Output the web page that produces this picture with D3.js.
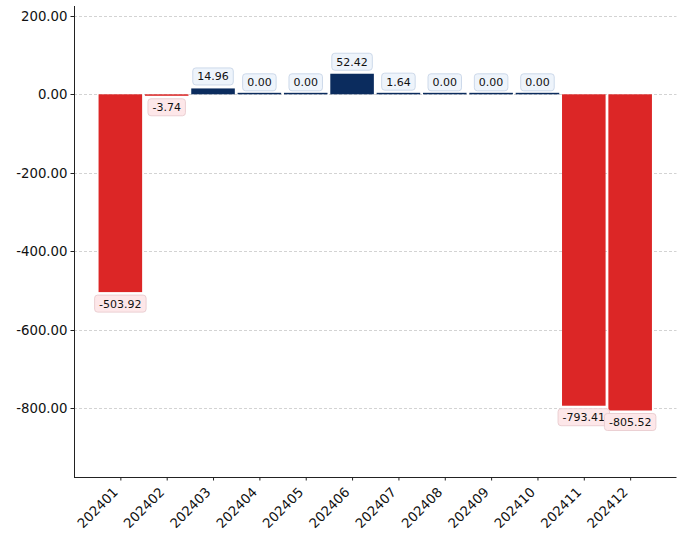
<!DOCTYPE html>
<html>
<head>
<meta charset="utf-8">
<script src="https://cdn.jsdelivr.net/npm/d3@7"></script>
<style>
  html, body { margin: 0; padding: 0; background: #fff; }
  svg { display: block; font-family: "DejaVu Sans", sans-serif; }
</style>
</head>
<body>
<svg id="chart" width="683" height="533"></svg>
<script>
// Monthly values
const months = ["202401","202402","202403","202404","202405","202406",
                "202407","202408","202409","202410","202411","202412"];
const values = [-503.92, -3.74, 14.96, 0.00, 0.00, 52.42,
                1.64, 0.00, 0.00, 0.00, -793.41, -805.52];
const yTicks = [200, 0, -200, -400, -600, -800];

const POS_COLOR = "#0b2c5e";
const NEG_COLOR = "#dc2626";

const svg = d3.select("#chart");
const plot = { left: 74, right: 676.5, top: 6, bottom: 477 };

const x = d3.scalePoint()
  .domain(months)
  .range([plot.left, plot.right])
  .padding(1);

const y = d3.scaleLinear()
  .domain([-975, 225])
  .range([plot.bottom, plot.top]);

const barW = x.step() * 0.94;
const fmt = v => v.toFixed(2);

// horizontal dashed grid
svg.append("g")
  .selectAll("line")
  .data(yTicks)
  .join("line")
  .attr("x1", plot.left)
  .attr("x2", plot.right)
  .attr("y1", d => Math.round(y(d)) + 0.5)
  .attr("y2", d => Math.round(y(d)) + 0.5)
  .attr("stroke", "#c8c8c8")
  .attr("stroke-width", 0.8)
  .attr("stroke-dasharray", "3,2");

// bars
const data = months.map((m, i) => ({ m, v: values[i] }));
svg.append("g")
  .selectAll("rect")
  .data(data)
  .join("rect")
  .attr("x", d => x(d.m) - barW / 2)
  .attr("width", barW)
  .attr("y", d => {
    const h = Math.max(Math.abs(y(d.v) - y(0)), 1.5);
    return d.v >= 0 ? y(0) - h : y(0);
  })
  .attr("height", d => Math.max(Math.abs(y(d.v) - y(0)), 1.5))
  .attr("fill", d => d.v >= 0 ? POS_COLOR : NEG_COLOR);

// value labels with rounded boxes
const labels = svg.append("g")
  .selectAll("g")
  .data(data)
  .join("g")
  .attr("transform", d => {
    const cy = d.v >= 0 ? y(d.v) - 12 : y(d.v) + 11.5;
    return `translate(${x(d.m)},${cy})`;
  });

labels.append("text")
  .attr("text-anchor", "middle")
  .attr("dy", "0.36em")
  .attr("font-size", 11)
  .attr("fill", "#111")
  .text(d => fmt(d.v));

labels.each(function(d) {
  const g = d3.select(this);
  const bb = g.select("text").node().getBBox();
  g.insert("rect", "text")
    .attr("x", bb.x - 4.5)
    .attr("y", -8.5)
    .attr("width", bb.width + 9)
    .attr("height", 17)
    .attr("rx", 3)
    .attr("fill", d.v >= 0 ? "#eef4fb" : "#fde7e9")
    .attr("stroke", d.v >= 0 ? "#cdd9ea" : "#ebcfd2")
    .attr("stroke-width", 1);
});

// y axis
const yAxis = svg.append("g")
  .attr("transform", `translate(${plot.left},0)`)
  .call(d3.axisLeft(y).tickValues(yTicks).tickFormat(fmt).tickSize(3.5).tickPadding(3));
yAxis.select(".domain").attr("d", `M0.5,${plot.top}V${plot.bottom}`).attr("stroke", "#222").attr("stroke-width", 1);
yAxis.selectAll(".tick line").attr("stroke", "#222");
yAxis.selectAll(".tick text").attr("font-size", 13.3).attr("fill", "#111")
  .attr("font-family", "DejaVu Sans");
yAxis.selectAll(".tick").attr("transform", d => `translate(0,${Math.round(y(d)) + 0.5})`);

// x axis
const xAxis = svg.append("g")
  .attr("transform", `translate(0,${plot.bottom})`)
  .call(d3.axisBottom(x).tickSize(3.5).tickSizeOuter(0));
xAxis.select(".domain").attr("d", `M${plot.left},0.5H${plot.right}`).attr("stroke", "#222").attr("stroke-width", 1);
xAxis.selectAll(".tick line").attr("stroke", "#222");
xAxis.selectAll(".tick text")
  .attr("font-size", 13.3)
  .attr("fill", "#111")
  .attr("font-family", "DejaVu Sans")
  .attr("text-anchor", "end")
  .attr("dy", null)
  .attr("y", 0)
  .attr("transform", "translate(-2,16) rotate(-45)");
</script>
</body>
</html>
